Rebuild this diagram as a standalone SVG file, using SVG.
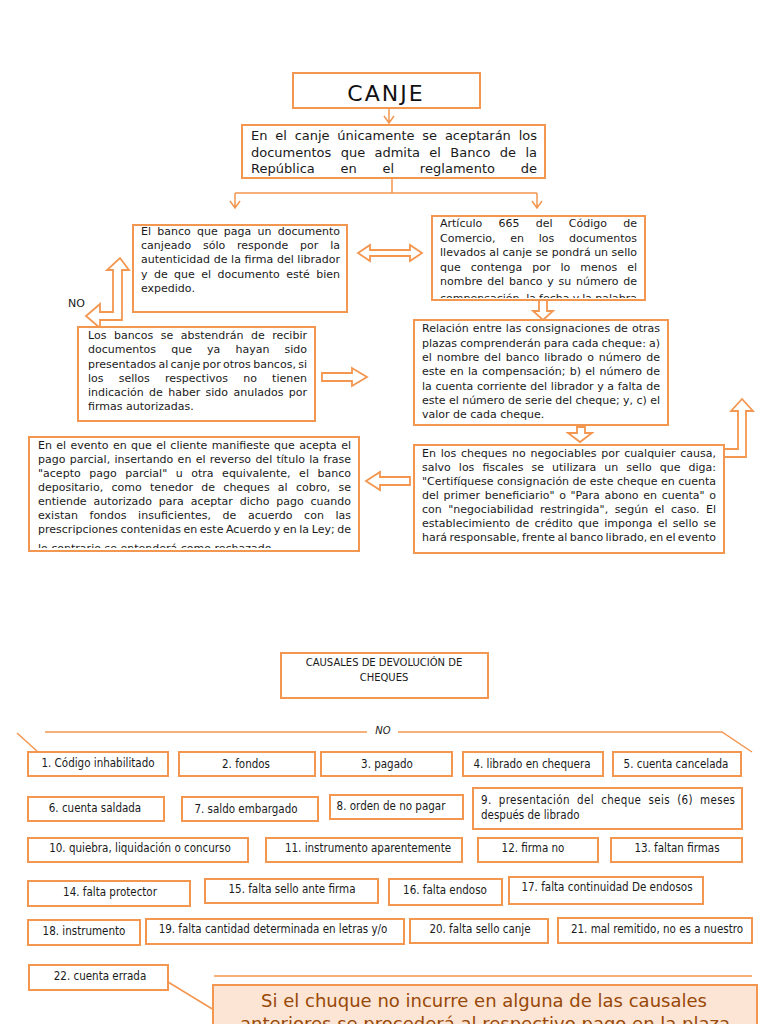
<svg xmlns="http://www.w3.org/2000/svg" width="768" height="1024" viewBox="0 0 768 1024">
<defs>
<style>
.box{fill:#fff;stroke:#F29650;stroke-width:2}
.ha{fill:#fff;stroke:#F29650;stroke-width:1.8;stroke-linejoin:miter}
.ln{fill:none;stroke:#F29650;stroke-width:1.5}
.t{font-family:"DejaVu Sans","Liberation Sans",sans-serif;font-size:11px;fill:#1a1a1a}
.t13{font-family:"DejaVu Sans","Liberation Sans",sans-serif;font-size:13px;fill:#1a1a1a}
.c{font-family:"DejaVu Sans Condensed","DejaVu Sans","Liberation Sans Narrow",sans-serif;font-stretch:condensed;font-size:11.5px;fill:#1a1a1a;text-anchor:middle}
.cl{font-family:"DejaVu Sans Condensed","DejaVu Sans","Liberation Sans Narrow",sans-serif;font-stretch:condensed;font-size:11.5px;fill:#1a1a1a;text-anchor:start}
.cs{font-family:"DejaVu Sans","Liberation Sans",sans-serif;font-size:10px;fill:#1a1a1a;text-anchor:middle}
</style>
<clipPath id="c4"><rect x="432" y="216" width="213" height="82"/></clipPath>
<clipPath id="c8"><rect x="29" y="437" width="330" height="111"/></clipPath>
</defs>
<rect width="768" height="1024" fill="#fff"/>

<g id="connectors">
<path class="ln" d="M389,108 V122 M384,116 L389,123 L394,116"/>
<path class="ln" d="M392,178 V193 M235,193 H537 M235,193 V208 M230,201 L235,208 L240,201 M537,193 V208 M532,201 L537,208 L542,201"/>
<polygon class="ha" points="358,253 370,245 370,250 410,250 410,245 422,253 410,261 410,256 370,256 370,261"/>
<path class="ha" d="M120,258 L129,270 L122,270 L122,320 L100,320 L100,328 L86,316 L100,304 L100,312 L113,312 L113,270 L107,270 Z"/>
<polygon class="ha" points="322,373 352,373 352,368 367,377 352,386 352,381 322,381"/>
<polygon class="ha" points="539,300 547,300 547,311 553,311 543,320 533,311 539,311"/>
<polygon class="ha" points="577,427 585,427 585,433 592,433 580,442 568,433 577,433"/>
<polygon class="ha" points="366,481 380,472 380,477 410,477 410,485 380,485 380,490"/>
<path class="ha" d="M724,449 L738,449 L738,411 L731,411 L742,399 L753,411 L746,411 L746,457 L724,457"/>
<path class="ln" d="M17,733 L38,752 M45,732 H367 M398,732 H722 L752,752"/>
<path class="ln" d="M214,976 H752 M168,982 L214,1010"/>
</g>

<g id="n-canje">
<rect class="box" x="293" y="73" width="187" height="35"/>
<text x="386" y="101" text-anchor="middle" font-family="DejaVu Sans, sans-serif" font-size="22" letter-spacing="2" fill="#111">CANJE</text>
</g>

<g id="n-intro">
<rect class="box" x="242" y="125" width="303" height="53"/>
<text class="t13" x="251" y="140" word-spacing="3.65" textLength="286" lengthAdjust="spacing">En el canje únicamente se aceptarán los</text>
<text class="t13" x="251" y="157" word-spacing="5.2" textLength="286" lengthAdjust="spacing">documentos que admita el Banco de la</text>
<text class="t13" x="251" y="173" word-spacing="21.5" textLength="286" lengthAdjust="spacing">República en el reglamento de</text>
</g>

<g id="n-banco">
<rect class="box" x="133" y="225" width="214" height="87"/>
<text class="t" x="141" y="235" word-spacing="2.7" textLength="199" lengthAdjust="spacing">El banco que paga un documento</text>
<text class="t" x="141" y="249" word-spacing="8.3" textLength="199" lengthAdjust="spacing">canjeado sólo responde por la</text>
<text class="t" x="141" y="263" word-spacing="0.1" textLength="199" lengthAdjust="spacing">autenticidad de la firma del librador</text>
<text class="t" x="141" y="278" word-spacing="2.9" textLength="199" lengthAdjust="spacing">y de que el documento esté bien</text>
<text class="t" x="141" y="292">expedido.</text>
</g>

<g id="n-articulo">
<rect class="box" x="432" y="216" width="213" height="84"/>
<g clip-path="url(#c4)">
<text class="t" x="440" y="227" word-spacing="12.8" textLength="197" lengthAdjust="spacing">Artículo 665 del Código de</text>
<text class="t" x="440" y="242" word-spacing="11.2" textLength="197" lengthAdjust="spacing">Comercio, en los documentos</text>
<text class="t" x="440" y="256" textLength="197" lengthAdjust="spacing">llevados al canje se pondrá un sello</text>
<text class="t" x="440" y="271" word-spacing="6.5" textLength="197" lengthAdjust="spacing">que contenga por lo menos el</text>
<text class="t" x="440" y="285" word-spacing="1.2" textLength="197" lengthAdjust="spacing">nombre del banco y su número de</text>
<text class="t" x="440" y="302" word-spacing="-0.4" textLength="197" lengthAdjust="spacing">compensación, la fecha y la palabra</text>
</g>
</g>

<g id="n-no">
<text class="t" x="68" y="307" font-size="10">NO</text>
</g>

<g id="n-abstendran">
<rect class="box" x="78" y="327" width="237" height="94"/>
<text class="t" x="88" y="339" word-spacing="4" textLength="219" lengthAdjust="spacing">Los bancos se abstendrán de recibir</text>
<text class="t" x="88" y="353" word-spacing="11.6" textLength="219" lengthAdjust="spacing">documentos que ya hayan sido</text>
<text class="t" x="88" y="368" word-spacing="-1.2" textLength="219" lengthAdjust="spacing">presentados al canje por otros bancos, si</text>
<text class="t" x="88" y="382" word-spacing="11.7" textLength="219" lengthAdjust="spacing">los sellos respectivos no tienen</text>
<text class="t" x="88" y="396" word-spacing="1.9" textLength="219" lengthAdjust="spacing">indicación de haber sido anulados por</text>
<text class="t" x="88" y="410">firmas autorizadas.</text>
</g>

<g id="n-relacion">
<rect class="box" x="414" y="320" width="254" height="105"/>
<text class="t" x="422" y="332" word-spacing="0.46" textLength="238" lengthAdjust="spacing">Relación entre las consignaciones de otras</text>
<text class="t" x="422" y="347" word-spacing="-0.4" textLength="238" lengthAdjust="spacing">plazas comprenderán para cada cheque: a)</text>
<text class="t" x="422" y="361" word-spacing="1.36" textLength="238" lengthAdjust="spacing">el nombre del banco librado o número de</text>
<text class="t" x="422" y="375" word-spacing="0.8" textLength="238" lengthAdjust="spacing">este en la compensación; b) el número de</text>
<text class="t" x="422" y="390" word-spacing="0.2" textLength="238" lengthAdjust="spacing">la cuenta corriente del librador y a falta de</text>
<text class="t" x="422" y="404" word-spacing="-0.15" textLength="238" lengthAdjust="spacing">este el número de serie del cheque; y, c) el</text>
<text class="t" x="422" y="418">valor de cada cheque.</text>
</g>

<g id="n-negociables">
<rect class="box" x="414" y="445" width="310" height="108"/>
<text class="t" x="422" y="457" word-spacing="1.3" textLength="294" lengthAdjust="spacing">En los cheques no negociables por cualquier causa,</text>
<text class="t" x="422" y="471" word-spacing="4.56" textLength="294" lengthAdjust="spacing">salvo los fiscales se utilizara un sello que diga:</text>
<text class="t" x="422" y="485" textLength="294" lengthAdjust="spacing">"Certifíquese consignación de este cheque en cuenta</text>
<text class="t" x="422" y="499" word-spacing="1.14" textLength="294" lengthAdjust="spacing">del primer beneficiario" o "Para abono en cuenta" o</text>
<text class="t" x="422" y="513" word-spacing="2.97" textLength="294" lengthAdjust="spacing">con "negociabilidad restringida", según el caso. El</text>
<text class="t" x="422" y="527" word-spacing="1.77" textLength="294" lengthAdjust="spacing">establecimiento de crédito que imponga el sello se</text>
<text class="t" x="422" y="541" word-spacing="-1.14" textLength="294" lengthAdjust="spacing">hará responsable, frente al banco librado, en el evento</text>
</g>

<g id="n-evento">
<rect class="box" x="29" y="437" width="330" height="114"/>
<g clip-path="url(#c8)">
<text class="t" x="38" y="449" word-spacing="0.88" textLength="313" lengthAdjust="spacing">En el evento en que el cliente manifieste que acepta el</text>
<text class="t" x="38" y="463" word-spacing="0.76" textLength="313" lengthAdjust="spacing">pago parcial, insertando en el reverso del título la frase</text>
<text class="t" x="38" y="477" word-spacing="5.03" textLength="313" lengthAdjust="spacing">"acepto pago parcial" u otra equivalente, el banco</text>
<text class="t" x="38" y="491" word-spacing="4.76" textLength="313" lengthAdjust="spacing">depositario, como tenedor de cheques al cobro, se</text>
<text class="t" x="38" y="505" word-spacing="3.33" textLength="313" lengthAdjust="spacing">entiende autorizado para aceptar dicho pago cuando</text>
<text class="t" x="38" y="519" word-spacing="8.05" textLength="313" lengthAdjust="spacing">existan fondos insuficientes, de acuerdo con las</text>
<text class="t" x="38" y="533" word-spacing="-0.94" textLength="313" lengthAdjust="spacing">prescripciones contenidas en este Acuerdo y en la Ley; de</text>
<text class="t" x="38" y="552">lo contrario se entenderá como rechazado</text>
</g>
</g>

<g id="n-causales">
<rect class="box" x="281" y="653" width="207" height="45"/>
<text class="cs" x="384" y="666">CAUSALES DE DEVOLUCIÓN DE</text>
<text class="cs" x="384" y="681">CHEQUES</text>
</g>

<g id="n-no2">
<text class="cs" x="383" y="734" font-style="italic">NO</text>
</g>

<g id="n-c1"><rect class="box" x="28" y="752" width="140" height="24"/><text class="c" x="98" y="767">1. Código inhabilitado</text></g>
<g id="n-c2"><rect class="box" x="179" y="752" width="136" height="24"/><text class="c" x="246" y="768">2. fondos</text></g>
<g id="n-c3"><rect class="box" x="321" y="752" width="131" height="24"/><text class="c" x="387" y="768">3. pagado</text></g>
<g id="n-c4"><rect class="box" x="463" y="752" width="140" height="24"/><text class="c" x="532" y="768">4. librado en chequera</text></g>
<g id="n-c5"><rect class="box" x="613" y="752" width="128" height="24"/><text class="c" x="676" y="768">5. cuenta cancelada</text></g>

<g id="n-c6"><rect class="box" x="28" y="797" width="136" height="24"/><text class="c" x="95" y="812">6. cuenta saldada</text></g>
<g id="n-c7"><rect class="box" x="182" y="797" width="136" height="24"/><text class="c" x="246" y="813">7. saldo embargado</text></g>
<g id="n-c8"><rect class="box" x="330" y="795" width="133" height="24"/><text class="c" x="391" y="810">8. orden de no pagar</text></g>
<g id="n-c9"><rect class="box" x="473" y="788" width="269" height="41"/>
<text class="cl" x="481" y="804" word-spacing="3.7" textLength="254" lengthAdjust="spacing">9. presentación del cheque seis (6) meses</text>
<text class="cl" x="481" y="819">después de librado</text></g>

<g id="n-c10"><rect class="box" x="28" y="838" width="220" height="24"/><text class="c" x="140" y="852">10. quiebra, liquidación o concurso</text></g>
<g id="n-c11"><rect class="box" x="266" y="838" width="196" height="24"/><text class="c" x="368" y="852">11. instrumento aparentemente</text></g>
<g id="n-c12"><rect class="box" x="478" y="838" width="120" height="24"/><text class="c" x="533" y="852">12. firma no</text></g>
<g id="n-c13"><rect class="box" x="611" y="838" width="131" height="24"/><text class="c" x="677" y="852">13. faltan firmas</text></g>

<g id="n-c14"><rect class="box" x="28" y="881" width="162" height="25"/><text class="c" x="110" y="896">14. falta protector</text></g>
<g id="n-c15"><rect class="box" x="205" y="879" width="173" height="24"/><text class="c" x="292" y="893">15. falta sello ante firma</text></g>
<g id="n-c16"><rect class="box" x="389" y="879" width="113" height="26"/><text class="c" x="445" y="894">16. falta endoso</text></g>
<g id="n-c17"><rect class="box" x="509" y="877" width="194" height="27"/><text class="c" x="607" y="891">17. falta continuidad De endosos</text></g>

<g id="n-c18"><rect class="box" x="28" y="920" width="112" height="25"/><text class="c" x="84" y="935">18. instrumento</text></g>
<g id="n-c19"><rect class="box" x="146" y="919" width="258" height="25"/><text class="c" x="273" y="933">19.  falta cantidad determinada en letras y/o</text></g>
<g id="n-c20"><rect class="box" x="410" y="919" width="138" height="24"/><text class="c" x="480" y="933">20. falta sello canje</text></g>
<g id="n-c21"><rect class="box" x="558" y="918" width="194" height="25"/><text class="c" x="657" y="933">21. mal remitido, no es a nuestro</text></g>

<g id="n-c22"><rect class="box" x="29" y="965" width="139" height="25"/><text class="c" x="100" y="980" font-size="9.5">22. cuenta errada</text></g>

<g id="n-final">
<rect x="213" y="985" width="544" height="45" fill="#FCE5D4" stroke="#F29650" stroke-width="2"/>
<text x="484" y="1007" text-anchor="middle" font-family="DejaVu Sans, sans-serif" font-size="18" fill="#984807">Si el chuque no incurre en alguna de las causales</text>
<text x="485" y="1030" text-anchor="middle" font-family="DejaVu Sans, sans-serif" font-size="18" fill="#984807">anteriores se procederá al respectivo pago en la plaza</text>
</g>
</svg>
